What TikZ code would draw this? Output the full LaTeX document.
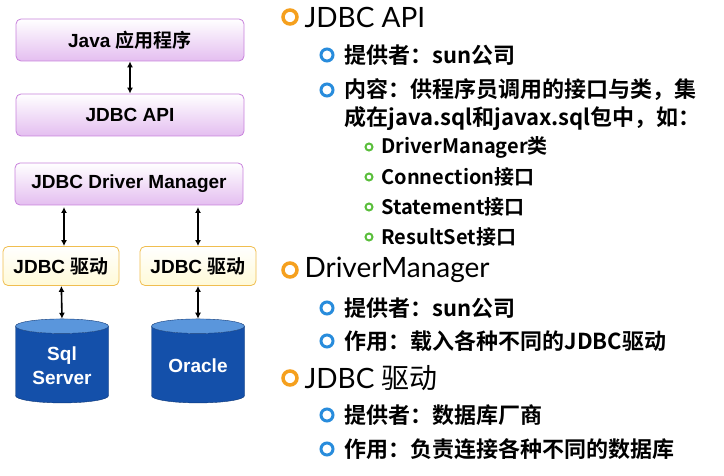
\documentclass[tikz,border=0pt]{standalone}
\usepackage{fontspec}
\setmainfont{Noto Sans CJK SC}[BoldFont={Noto Sans CJK SC Bold}]
\newfontfamily\headfont{Lato}
\newfontfamily\boxfont{Liberation Sans}[BoldFont={Liberation Sans Bold}]
\usetikzlibrary{shapes.geometric}
\usetikzlibrary{arrows.meta}
\definecolor{boxline}{RGB}{200,130,220}
\definecolor{boxfill}{RGB}{228,190,240}
\definecolor{drvline}{RGB}{240,190,80}
\definecolor{drvfill}{RGB}{255,250,215}
\definecolor{dbblue}{RGB}{20,80,170}
\definecolor{dbtop}{RGB}{90,150,220}
\definecolor{bulorange}{RGB}{245,160,30}
\definecolor{bulblue}{RGB}{40,140,220}
\definecolor{bulgreen}{RGB}{90,190,60}

\begin{document}
\begin{tikzpicture}[x=1pt, y=-1pt,
  layer/.style={rectangle, draw=boxline, thick, rounded corners=5pt, top color=white, bottom color=boxfill, minimum width=228pt, minimum height=42pt, font=\boxfont\bfseries\fontsize{19}{22}\selectfont},
  driver/.style={rectangle, draw=drvline, thick, rounded corners=5pt, top color=white, bottom color=drvfill, minimum width=116pt, minimum height=39pt, font=\boxfont\bfseries\fontsize{19}{22}\selectfont},
  db/.style={cylinder, shape border rotate=90, aspect=0.22, draw=dbblue!70!black, minimum width=93pt, minimum height=84pt, cylinder uses custom fill, cylinder body fill=dbblue, cylinder end fill=dbtop, text=white, align=center, font=\boxfont\bfseries\fontsize{19}{24}\selectfont},
  link/.style={draw, line width=1.6pt, {Latex[length=6pt,width=6pt]}-{Latex[length=6pt,width=6pt]}},
  head/.style={anchor=west, font=\headfont\fontsize{28}{32}\selectfont},
  item/.style={anchor=west, font=\bfseries\fontsize{22}{26}\selectfont},
  subitem/.style={anchor=west, font=\bfseries\fontsize{20}{24}\selectfont},
  bigbul/.style={circle, draw=bulorange, line width=3.5pt, fill=white, inner sep=0pt, minimum size=14pt},
  midbul/.style={circle, draw=bulblue, line width=3pt, fill=white, inner sep=0pt, minimum size=12pt},
  smallbul/.style={circle, draw=bulgreen, line width=2pt, fill=white, inner sep=0pt, minimum size=7pt}]
\useasboundingbox (0,0) rectangle (724,476);
% left stack
\node[layer] (app) at (130,40) {Java \textbf{\rmfamily 应用程序}};
\node[layer] (api) at (130,115) {JDBC API};
\node[layer] (dm) at (129,184) {JDBC Driver Manager};
\node[driver] (drva) at (61,266) {JDBC {\rmfamily 驱动}};
\node[driver] (drvb) at (198,266) {JDBC {\rmfamily 驱动}};
\node[db] (sql) at (62,366) {Sql\\Server};
\node[db] (ora) at (198,366) {Oracle};
\coordinate (dma) at (64,207);
\coordinate (dmb) at (198,207);
\path[link] (app) -- (api);
\path[link] (dma) -- (drva.north -| dma);
\path[link] (dmb) -- (drvb);
\path[link] (drva) -- (sql.north);
\path[link] (drvb) -- (ora.north);
% right text
\node[bigbul] (b1) at (290,17) {};
\node[head] (t1) at (301,17) {JDBC API};
\node[midbul] (b11) at (327,55) {};
\node[item] (t11) at (341,55) {提供者：sun公司};
\node[midbul] (b12) at (327,90) {};
\node[item] (t12) at (341,90) {内容：供程序员调用的接口与类，集};
\node[item] (t12b) at (341,119) {成在java.sql和javax.sql包中，如：};
\node[smallbul] (b13) at (369,147) {};
\node[subitem] (t13) at (378,147) {DriverManager类};
\node[smallbul] (b14) at (369,177) {};
\node[subitem] (t14) at (378,177) {Connection接口};
\node[smallbul] (b15) at (369,207) {};
\node[subitem] (t15) at (378,207) {Statement接口};
\node[smallbul] (b16) at (369,237) {};
\node[subitem] (t16) at (378,237) {ResultSet接口};
\node[bigbul] (b2) at (290,270) {};
\node[head] (t2) at (301,270) {DriverManager};
\node[midbul] (b21) at (327,308) {};
\node[item] (t21) at (341,308) {提供者：sun公司};
\node[midbul] (b22) at (327,341) {};
\node[item] (t22) at (341,341) {作用：载入各种不同的JDBC驱动};
\node[bigbul] (b3) at (290,378) {};
\node[head] (t3) at (301,378) {JDBC {\rmfamily 驱动}};
\node[midbul] (b31) at (327,415) {};
\node[item] (t31) at (341,415) {提供者：数据库厂商};
\node[midbul] (b32) at (327,449) {};
\node[item] (t32) at (341,449) {作用：负责连接各种不同的数据库};
\end{tikzpicture}
\end{document}
